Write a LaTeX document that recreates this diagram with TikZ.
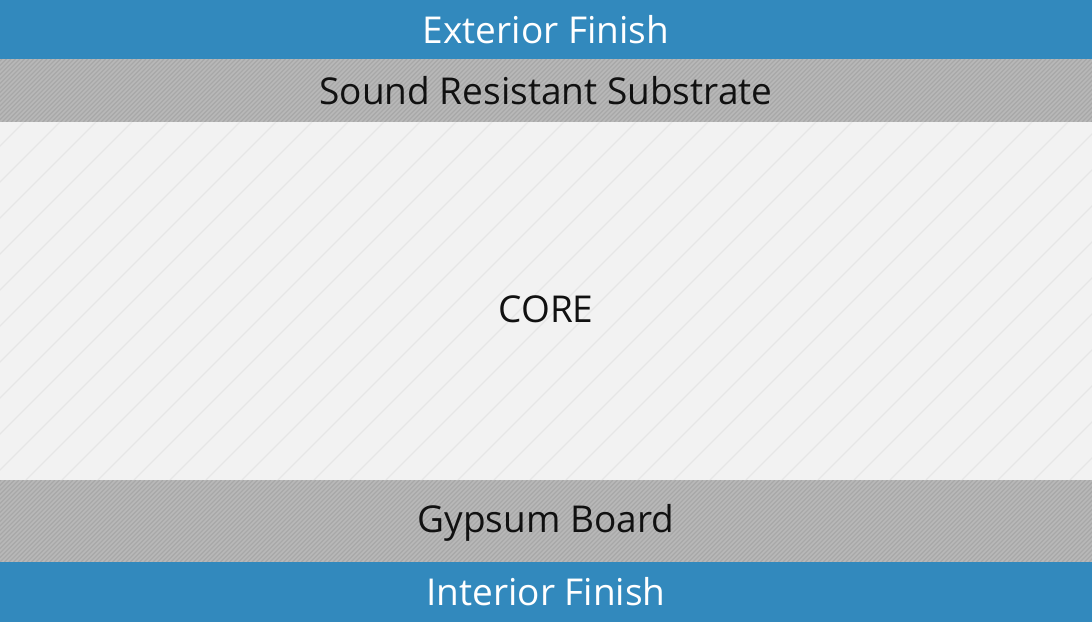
\documentclass[tikz,border=0pt]{standalone}
\usepackage{fontspec}
\setmainfont{Open Sans}
\definecolor{finishblue}{RGB}{50,137,189}
\definecolor{layergray}{RGB}{184,184,184}
\definecolor{layertex}{RGB}{168,168,168}
\definecolor{corefill}{RGB}{242,242,242}
\definecolor{coreline}{RGB}{230,230,230}
\definecolor{textdark}{RGB}{17,17,17}
\begin{document}
\begin{tikzpicture}[x=1pt,y=-1pt,
  lbl/.style={font=\fontsize{37}{44}\selectfont, inner sep=0pt, anchor=center},
  lightlbl/.style={lbl, text=white},
  darklbl/.style={lbl, text=textdark}]
\useasboundingbox (0,0) rectangle (1092,622);
% exterior finish
\fill[finishblue] (0,0) rectangle (1092,59);
% sound resistant substrate
\fill[layergray] (0,59) rectangle (1092,122);
\begin{scope}
\clip (0,59) rectangle (1092,122);
\foreach \i in {-70,-65.5,...,1100} \draw[layertex, line width=1.1pt] (\i,122) -- (\i+63,59);
\end{scope}
% core
\fill[corefill] (0,122) rectangle (1092,480);
\begin{scope}
\clip (0,122) rectangle (1092,480);
\foreach \i in {-370,-334,...,1100} \draw[coreline, line width=1.2pt] (\i,480) -- (\i+358,122);
\end{scope}
% gypsum board
\fill[layergray] (0,480) rectangle (1092,562);
\begin{scope}
\clip (0,480) rectangle (1092,562);
\foreach \i in {-90,-85.5,...,1100} \draw[layertex, line width=1.1pt] (\i,562) -- (\i+82,480);
\end{scope}
% interior finish
\fill[finishblue] (0,562) rectangle (1092,622);
% labels
\node[lightlbl] (ext) at (546,30) {Exterior Finish};
\node[darklbl] (snd) at (546,91) {Sound Resistant Substrate};
\node[darklbl] (core) at (546,309) {CORE};
\node[darklbl] (gyp) at (546,523) {Gypsum Board};
\node[lightlbl] (int) at (546,592) {Interior Finish};
\end{tikzpicture}
\end{document}
